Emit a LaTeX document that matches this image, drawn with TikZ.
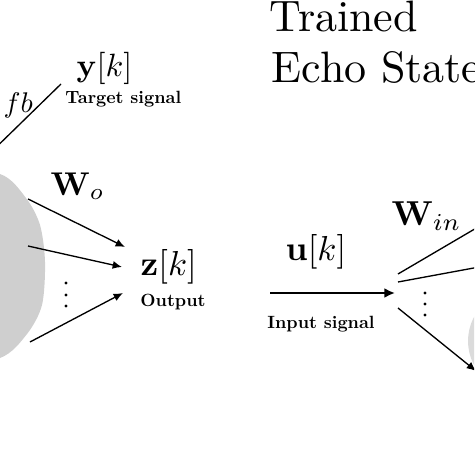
\documentclass[tikz,border=0pt]{standalone}
\usetikzlibrary{arrows.meta}
\begin{document}
\begin{tikzpicture}[x=0.75pt, y=-0.75pt,
  every node/.style={font=\fontsize{10}{12}\selectfont, inner sep=0pt, anchor=base west},
  lab/.style={scale=2.6},
  title/.style={scale=3.3},
  caption/.style={font=\fontsize{10}{12}\selectfont\bfseries, scale=1.33},
  wire/.style={line width=1pt},
  arr/.style={wire, -{Latex[length=7pt,width=6pt]}},
  blob/.style={fill=black!19}]
\useasboundingbox (0,0) rectangle (474,474);
\clip (0,0) rectangle (474,474);
% reservoirs (cut by the frame)
\fill[blob] plot[smooth cycle] coordinates {(-60,170) (0,174) (26,198) (40,225) (45,262) (42,305) (27,334) (0,358) (-60,365)};
\fill[black!14] (530,341) ellipse (62 and 56);
% titles and labels
\node[title] (title1) at (269,32) {Trained};
\node[title] (title2) at (271,83) {Echo State};
\node[lab, scale=0.93] (yk) at (76,77) {$\mathbf{y}[k]$};
\node[caption] (target) at (65,104) {Target signal};
\node[lab, scale=0.82] (fb) at (3,113) {$fb$};
\node[lab, scale=0.95] (wo) at (50,195) {$\mathbf{W}_o$};
\node[lab] (zk) at (140,275) {$\mathbf{z}[k]$};
\node[caption] (out) at (140,306) {Output};
\node[lab] (uk) at (285,260) {$\mathbf{u}[k]$};
\node[caption] (inp) at (267,328) {Input signal};
\node[lab] (win) at (391,225) {$\mathbf{W}_{in}$};
% connector ends
\coordinate (fbtop) at (61,84);
\coordinate (fbend) at (-20,163);
\coordinate (o1) at (28,199);
\coordinate (o2) at (28,246);
\coordinate (o3) at (30,342);
\coordinate (z1) at (125,247);
\coordinate (z2) at (122,267);
\coordinate (z3) at (123,293);
\coordinate (uin) at (270,293);
\coordinate (split) at (395,293);
\coordinate (i1) at (398,274);
\coordinate (i2) at (398,282);
\coordinate (i3) at (398,308);
\coordinate (r1) at (490,220);
\coordinate (r2) at (490,265);
\coordinate (r3) at (476,371);
% feedback
\draw[wire] (fbtop) -- (fbend);
% readout
\draw[arr] (o1) -- (z1);
\draw[arr] (o2) -- (z2);
\draw[arr] (o3) -- (z3);
\foreach \y in {283,295,306} \fill (66,\y) circle (1.6);
% input
\draw[wire, line width=1.6pt, -{Latex[length=8pt,width=7.5pt]}] (uin) -- (split);
\draw[wire] (i1) -- (r1);
\draw[wire] (i2) -- (r2);
\draw[arr] (i3) -- (r3);
\foreach \y in {293,304,315} \fill (425,\y) circle (1.6);
\end{tikzpicture}
\end{document}
